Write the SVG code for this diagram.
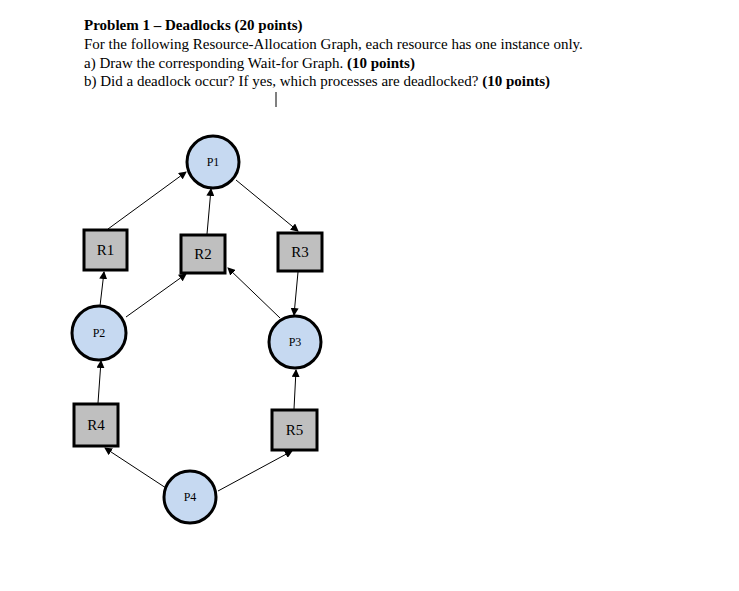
<svg xmlns="http://www.w3.org/2000/svg" width="739" height="591" viewBox="0 0 739 591">
<style>
text{font-family:"Liberation Serif","Times New Roman",serif;fill:#000}
.h{font-size:15px}
.b{font-weight:bold}
.p circle{fill:#c6d9f1;stroke:#000;stroke-width:3}
.p text{font-size:12px;text-anchor:middle}
.r rect{fill:#bfbfbf;stroke:#000;stroke-width:3}
.r text{font-size:15px;text-anchor:middle}
#edges line{stroke:#000;stroke-width:1;marker-end:url(#a)}
</style>
<defs><marker id="a" markerWidth="8" markerHeight="8" refX="7" refY="4" orient="auto" markerUnits="userSpaceOnUse"><path d="M0,0 L8,4 L0,8 z" fill="#000"/></marker></defs>
<rect width="739" height="591" fill="#fff"/>
<text class="h b" x="84" y="30">Problem 1 – Deadlocks (20 points)</text>
<text class="h" x="84" y="49">For the following Resource-Allocation Graph, each resource has one instance only.</text>
<text class="h" x="84" y="68">a) Draw the corresponding Wait-for Graph. <tspan class="b">(10 points)</tspan></text>
<text class="h" x="84" y="86">b) Did a deadlock occur? If yes, which processes are deadlocked? <tspan class="b">(10 points)</tspan></text>
<line x1="276" y1="92" x2="276" y2="107" stroke="#000" stroke-width="1"/>
<g id="edges">
<line x1="108" y1="229" x2="186" y2="172"/>
<line x1="207" y1="234" x2="211" y2="189"/>
<line x1="236" y1="180" x2="298" y2="231"/>
<line x1="298" y1="272" x2="294" y2="315"/>
<line x1="280" y1="318" x2="228" y2="268"/>
<line x1="100" y1="306" x2="104" y2="272"/>
<line x1="126" y1="317" x2="186" y2="274"/>
<line x1="98" y1="403" x2="101" y2="361"/>
<line x1="166" y1="488" x2="105" y2="448"/>
<line x1="218" y1="491" x2="292" y2="451"/>
<line x1="294" y1="409" x2="296" y2="370"/>
</g>
<g id="P1" class="p"><circle cx="213" cy="162" r="26"/><text x="213" y="166">P1</text></g>
<g id="P2" class="p"><circle cx="99" cy="333" r="27"/><text x="99" y="337">P2</text></g>
<g id="P3" class="p"><circle cx="295" cy="342" r="26"/><text x="295" y="346">P3</text></g>
<g id="P4" class="p"><circle cx="190" cy="497" r="26"/><text x="190" y="501">P4</text></g>
<g id="R1" class="r"><rect x="84" y="230" width="43" height="40"/><text x="105.5" y="255">R1</text></g>
<g id="R2" class="r"><rect x="181" y="235" width="44" height="38"/><text x="203" y="259">R2</text></g>
<g id="R3" class="r"><rect x="278" y="233" width="44" height="38"/><text x="300" y="257">R3</text></g>
<g id="R4" class="r"><rect x="74" y="404" width="44" height="42"/><text x="96" y="430">R4</text></g>
<g id="R5" class="r"><rect x="272" y="410" width="45" height="40"/><text x="294.5" y="435">R5</text></g>
</svg>
